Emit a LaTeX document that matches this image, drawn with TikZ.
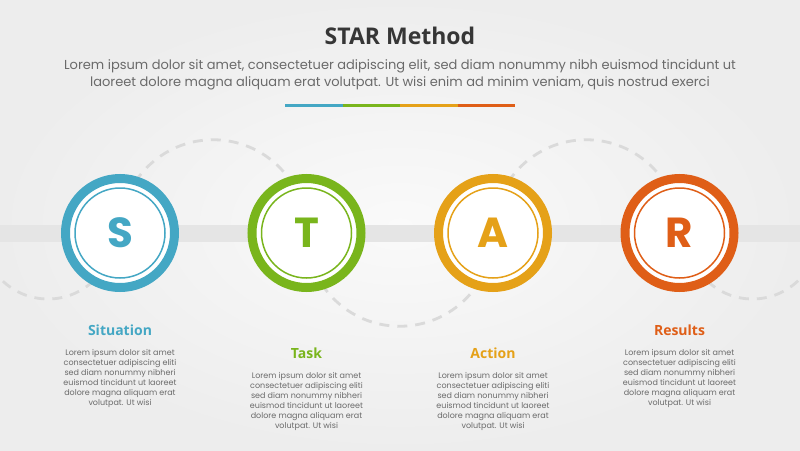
\documentclass[tikz,border=0pt]{standalone}
\usepackage{fontspec}
\setmainfont{Poppins}
\newfontfamily\headfont{Open Sans}
\usetikzlibrary{positioning}
\definecolor{sblue}{HTML}{44A7C4}
\definecolor{tgreen}{HTML}{79B51C}
\definecolor{aamber}{HTML}{E5A118}
\definecolor{rorange}{HTML}{DF5E17}
\definecolor{bandgray}{HTML}{E5E5E5}
\definecolor{trailgray}{HTML}{DADADA}
\definecolor{inkgray}{HTML}{363636}
\definecolor{copygray}{HTML}{6A6A6A}
\pgfdeclarelayer{background}
\pgfsetlayers{background,main}

\begin{document}
\begin{tikzpicture}[x=1pt, y=-1pt, node distance=77.5pt,
    stage/.style={circle, minimum size=109pt, inner sep=0pt, outer sep=0pt,
      fill=white, draw=#1, line width=9pt, text=#1,
      font=\bfseries\fontsize{42}{42}\selectfont,
      path picture={\draw[#1, line width=1.5pt] (path picture bounding box.center) circle (45pt);}},
    heading/.style={text=#1, inner sep=0pt, font=\headfont\bfseries\fontsize{14}{16}\selectfont},
    blurb/.style={text=copygray, inner sep=0pt, align=center, font=\fontsize{8}{9.9}\selectfont},
    trail/.style={trailgray, line width=2.8pt, dash pattern=on 10pt off 8pt}]
    \useasboundingbox (0,0) rectangle (800,450);

    % Title and lead text
    \node[text=inkgray, font=\headfont\bfseries\fontsize{23}{26}\selectfont] (title) at (400,36) {STAR Method};
    \node[text=copygray, align=center, font=\fontsize{13}{17}\selectfont] (lead) at (400,74.5)
      {Lorem ipsum dolor sit amet, consectetuer adipiscing elit, sed diam nonummy nibh euismod tincidunt ut\\
       laoreet dolore magna aliquam erat volutpat. Ut wisi enim ad minim veniam, quis nostrud exerci};
    \foreach \c [count=\i from 0] in {sblue,tgreen,aamber,rorange}
      \draw[\c, line width=3pt] ({285+57.5*\i},105) -- ++(57.5,0);

    % The four stages
    \node[stage=sblue] (s) at (120,233) {S};
    \node[stage=tgreen] (t) [right=of s] {T};
    \node[stage=aamber] (a) [right=of t] {A};
    \node[stage=rorange] (r) [right=of a] {R};

    \node[heading=sblue] (s-name) [below=37pt of s] {Situation};
    \node[blurb] (s-text) [below=14pt of s-name]
      {Lorem ipsum dolor sit amet\\consectetuer adipiscing eliti\\sed diam nonummy nibheri\\
       euismod tincidunt ut laoreet\\dolore magna aliquam erat\\volutpat. Ut wisi};
    \node[heading=tgreen] (t-name) [below=60pt of t] {Task};
    \node[blurb] (t-text) [below=14pt of t-name]
      {Lorem ipsum dolor sit amet\\consectetuer adipiscing eliti\\sed diam nonummy nibheri\\
       euismod tincidunt ut laoreet\\dolore magna aliquam erat\\volutpat. Ut wisi};
    \node[heading=aamber] (a-name) [below=60pt of a] {Action};
    \node[blurb] (a-text) [below=14pt of a-name]
      {Lorem ipsum dolor sit amet\\consectetuer adipiscing eliti\\sed diam nonummy nibheri\\
       euismod tincidunt ut laoreet\\dolore magna aliquam erat\\volutpat. Ut wisi};
    \node[heading=rorange] (r-name) [below=37pt of r] {Results};
    \node[blurb] (r-text) [below=14pt of r-name]
      {Lorem ipsum dolor sit amet\\consectetuer adipiscing eliti\\sed diam nonummy nibheri\\
       euismod tincidunt ut laoreet\\dolore magna aliquam erat\\volutpat. Ut wisi};

    % Backdrop, band and dashed path behind the stages
    \begin{pgfonlayer}{background}
      \shade[inner color=white!98!black, outer color=white!93!black] (0,0) rectangle (800,450);
      \clip (0,0) rectangle (800,450);
      \fill[bandgray] (0,225) rectangle (800,242);
      \draw[trail] (s.center) ++(-138pt,0) arc[start angle=180, end angle=360, radius=66pt];
      \draw[trail] (s.center) arc[start angle=180, end angle=0, radius=93.25pt];
      \draw[trail] (t.center) arc[start angle=180, end angle=360, radius=93.25pt];
      \draw[trail] (a.center) arc[start angle=180, end angle=0, radius=93.25pt];
      \draw[trail] (r.center) ++(7pt,0) arc[start angle=180, end angle=360, radius=66pt];
    \end{pgfonlayer}
\end{tikzpicture}
\end{document}
